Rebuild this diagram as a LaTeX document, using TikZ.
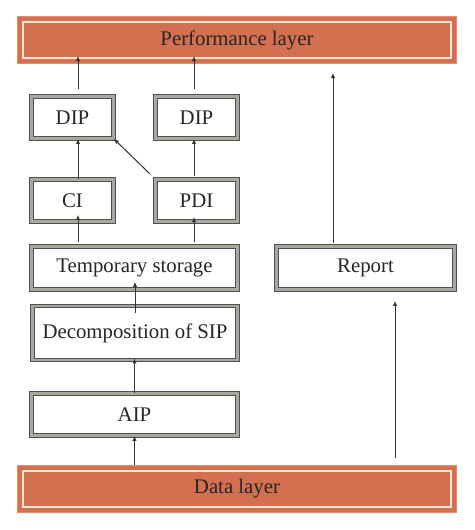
\documentclass[tikz,border=0pt]{standalone}
\usepackage{fontspec}
\setmainfont{Liberation Serif}
\usetikzlibrary{arrows.meta}
\definecolor{layerfill}{HTML}{D3704F}
\definecolor{layeredge}{HTML}{E08E6C}
\definecolor{layerline}{HTML}{F8E6D2}
\definecolor{boxdark}{HTML}{505050}
\definecolor{boxband}{HTML}{A8A7A0}
\definecolor{arrcol}{HTML}{333333}
\tikzset{
  layer/.style={fill=layerfill, draw=layeredge, line width=1pt, minimum width=439pt, minimum height=47pt, inner sep=0pt,
    font=\fontsize{20.8}{24}\selectfont, text=black!85},
  stepbox/.style={draw=boxdark, double=boxband, double distance=2.6pt, line width=0.9pt, fill=white,
    inner sep=0pt, font=\fontsize{20.8}{24}\selectfont, text=black!85},
  arr/.style={draw=arrcol, line width=1pt, -{Latex[length=5pt,width=4.5pt]}},
}
\begin{document}
\begin{tikzpicture}[x=1pt,y=-1pt]
\useasboundingbox (0,0) rectangle (474,530);
% layers
\node[layer] (perf) at (237,40) {Performance layer};
\draw[layerline, line width=1.5pt] ([shift={(6pt,-6pt)}]perf.north west) rectangle ([shift={(-6pt,6pt)}]perf.south east);
\node[layer] (data) at (237,489) {Data layer};
\draw[layerline, line width=1.5pt] ([shift={(6pt,-6pt)}]data.north west) rectangle ([shift={(-6pt,6pt)}]data.south east);
% boxes
\node[stepbox, minimum width=82pt, minimum height=42pt] (dip1) at (72.5,117.5) {DIP};
\node[stepbox, minimum width=82pt, minimum height=42pt] (dip2) at (196.5,117.5) {DIP};
\node[stepbox, minimum width=82pt, minimum height=42pt] (ci) at (72.5,200.5) {CI};
\node[stepbox, minimum width=82pt, minimum height=42pt] (pdi) at (196.5,200.5) {PDI};
\node[stepbox, minimum width=206pt, minimum height=43pt] (temp) at (134.5,268) {Temporary storage};
\node[stepbox, minimum width=178pt, minimum height=43pt] (report) at (365.5,268) {Report};
\node[stepbox, minimum width=205pt, minimum height=54pt] (decomp) at (135,333) {Decomposition of SIP};
\node[stepbox, minimum width=206pt, minimum height=42pt] (aip) at (134.5,414.5) {AIP};
% arrows
\draw[arr, shorten <=7pt, shorten >=-8pt] ([xshift=5.5pt]dip1.north) -- ([xshift=5.5pt]dip1.north |- perf.south);
\draw[arr, shorten <=7pt, shorten >=-8pt] ([xshift=-2.5pt]dip2.north) -- ([xshift=-2.5pt]dip2.north |- perf.south);
\draw[arr, shorten <=3pt, shorten >=9pt] ([xshift=-32.5pt]report.north) -- ([xshift=-32.5pt]report.north |- perf.south);
\draw[arr] ([xshift=5.5pt]ci.north) -- ([xshift=5.5pt]ci.north |- dip1.south);
\draw[arr] ([shift={(-5pt,5pt)}]pdi.north west) -- (dip1.south east);
\draw[arr, shorten <=3pt] ([xshift=-2.5pt]pdi.north) -- ([xshift=-2.5pt]pdi.north |- dip2.south);
\draw[arr, shorten <=4pt, shorten >=-7pt] ([xshift=5.5pt]temp.north -| ci.north) -- ([xshift=5.5pt]ci.south);
\draw[arr, shorten <=4pt, shorten >=-5pt] ([xshift=-2.5pt]temp.north -| pdi.north) -- ([xshift=-2.5pt]pdi.south);
\draw[arr, shorten <=-7pt, shorten >=-8pt] (decomp.north) -- (decomp.north |- temp.south);
\draw[arr, shorten >=-2pt] (aip.north) -- (aip.north |- decomp.south);
\draw[arr] (aip.south |- data.north) -- (aip.south);
\draw[arr, shorten <=7pt, shorten >=11pt] ([xshift=29.5pt]report.south |- data.north) -- ([xshift=29.5pt]report.south);
\end{tikzpicture}
\end{document}
